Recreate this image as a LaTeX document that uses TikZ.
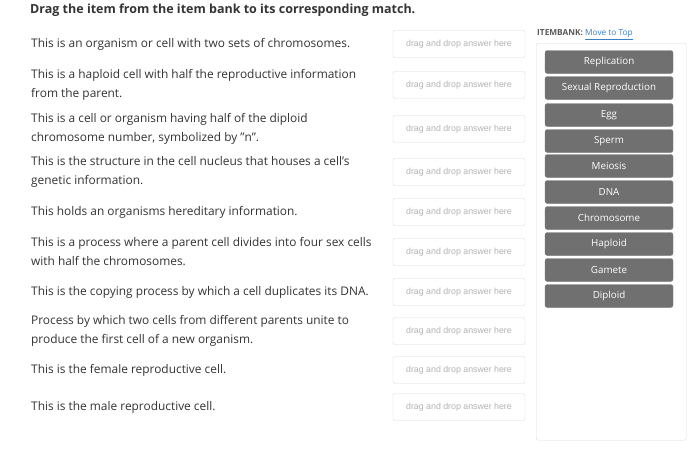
\documentclass[tikz,border=0pt]{standalone}
\usepackage{fontspec}
\setmainfont{Open Sans}
\newfontfamily\arialf{Liberation Sans}
\definecolor{txt}{HTML}{333333}
\definecolor{btn}{HTML}{707070}
\definecolor{lnk}{HTML}{3A7FC1}
\begin{document}
\begin{tikzpicture}[x=1pt,y=-1pt,
  q/.style={anchor=west,align=left,text=txt,font=\fontsize{11.9}{19}\selectfont,inner sep=0},
  drop/.style={draw=black!15,rounded corners=2pt,minimum width=132,minimum height=27,text=black!30,font=\arialf\fontsize{8.8}{9}\selectfont},
  btnbox/.style={fill=btn,draw=black!55,rounded corners=2.5pt,minimum width=128,minimum height=23,text=white,font=\fontsize{9.8}{10}\selectfont}]
\useasboundingbox (0,0) rectangle (700,455);
\node[anchor=west,inner sep=0,text=txt,font=\bfseries\fontsize{12.5}{14}\selectfont] (title) at (30,10) {Drag the item from the item bank to its corresponding match.};
\foreach \i/\y/\t in {1/44/{This is an organism or cell with two sets of chromosomes.},
 2/85/{This is a haploid cell with half the reproductive information\\from the parent.},
 3/129/{This is a cell or organism having half of the diploid\\chromosome number, symbolized by "n".},
 4/172/{This is the structure in the cell nucleus that houses a cell's\\genetic information.},
 5/212/{This holds an organisms hereditary information.},
 6/252/{This is a process where a parent cell divides into four sex cells\\with half the chromosomes.},
 7/292/{This is the copying process by which a cell duplicates its DNA.},
 8/331/{Process by which two cells from different parents unite to\\produce the first cell of a new organism.},
 9/370/{This is the female reproductive cell.},
 10/407/{This is the male reproductive cell.}}{
 \node[q] (q\i) at (31,\y) {\t};
 \node[drop] (d\i) at (459,\y) {drag and drop answer here};
}
\node[anchor=west,inner sep=0,font=\fontsize{8.3}{9}\selectfont] (bank) at (537,35) {\textcolor{black!65}{\textbf{ITEMBANK:}} \textcolor{lnk}{\underline{Move to Top}}};
\node[draw=black!15,rounded corners=2pt,minimum width=150,minimum height=397,anchor=north west] (bankbox) at (536,43) {};
\foreach \i/\y/\t in {1/62/Replication,2/88/Sexual Reproduction,3/115/Egg,4/141/Sperm,5/166/Meiosis,6/192/DNA,7/218/Chromosome,8/244/Haploid,9/270/Gamete,10/296/Diploid}{
 \node[btnbox] (b\i) at (609,\y) {\t};
}
\end{tikzpicture}
\end{document}
